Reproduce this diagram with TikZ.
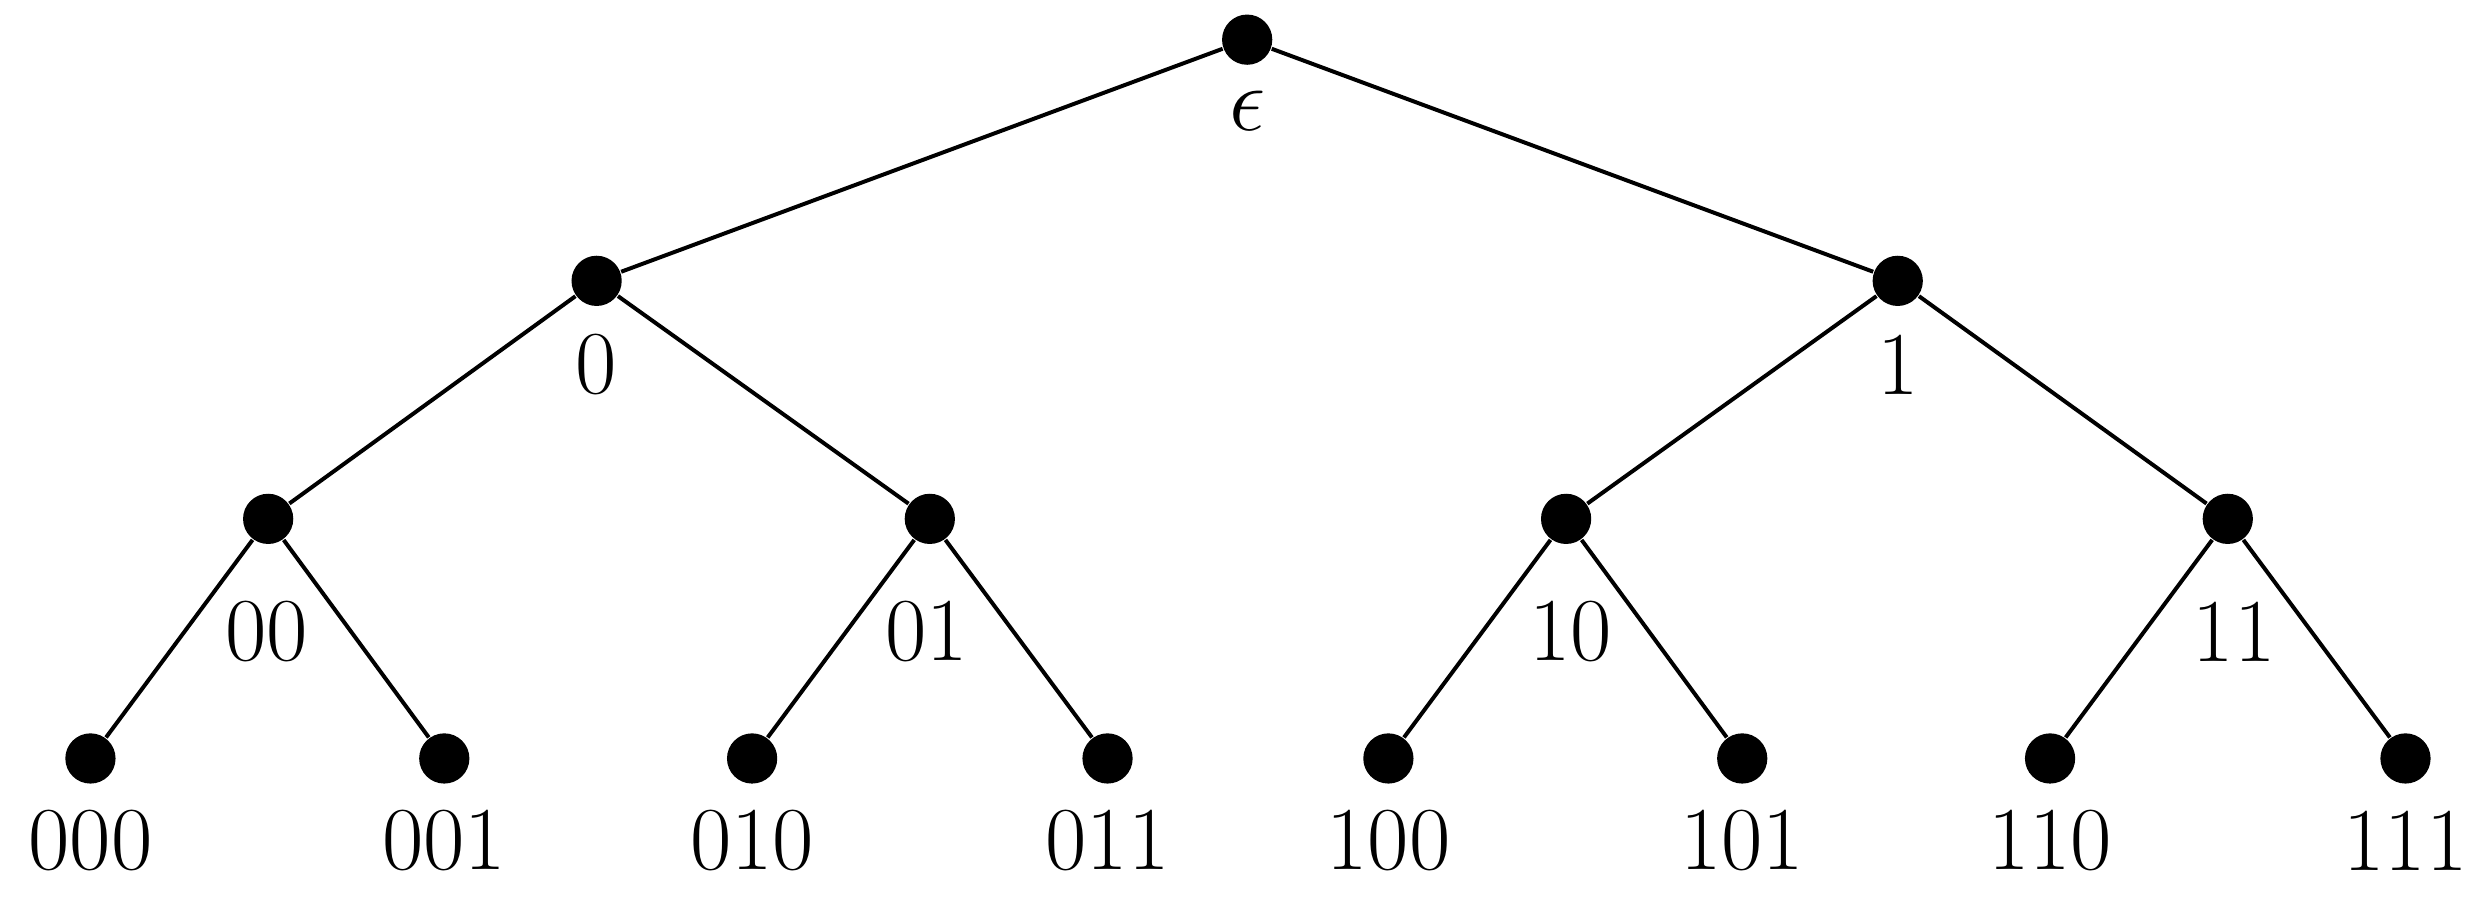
\documentclass[tikz,border=0pt]{standalone}
\begin{document}
\begin{tikzpicture}[x=0.3pt,y=-0.3pt,
  dot/.style={circle,fill=black,inner sep=0pt,minimum size=9.5pt},
  lab/.style={font=\fontsize{17}{17}\selectfont,inner sep=0pt},
  edge/.style={line width=0.75pt}]
\useasboundingbox (0,0) rectangle (1568,573);
\node[dot] (e) at (786,25) {};
\node[dot] (n0) at (376,177) {};
\node[dot] (n1) at (1196,177) {};
\node[dot] (n00) at (169,327) {};
\node[dot] (n01) at (586,327) {};
\node[dot] (n10) at (987,327) {};
\node[dot] (n11) at (1404,327) {};
\foreach \n/\x in {000/57,001/280,010/474,011/698,100/875,101/1098,110/1292,111/1516}{
  \node[dot] (n\n) at (\x,478) {};
  \node[lab] (l\n) at (\x,530) {\n};
}
\node[lab] (le) at (786,70) {$\epsilon$};
\node[lab] (l0) at (376,230) {0};
\node[lab] (l1) at (1196,230) {1};
\node[lab] (l00) at (168,398) {00};
\node[lab] (l01) at (584,398) {01};
\node[lab] (l10) at (990,398) {10};
\node[lab] (l11) at (1408,398) {11};
\draw[edge] (e)--(n0) (e)--(n1)
  (n0)--(n00) (n0)--(n01) (n1)--(n10) (n1)--(n11)
  (n00)--(n000) (n00)--(n001) (n01)--(n010) (n01)--(n011)
  (n10)--(n100) (n10)--(n101) (n11)--(n110) (n11)--(n111);
\end{tikzpicture}
\end{document}
